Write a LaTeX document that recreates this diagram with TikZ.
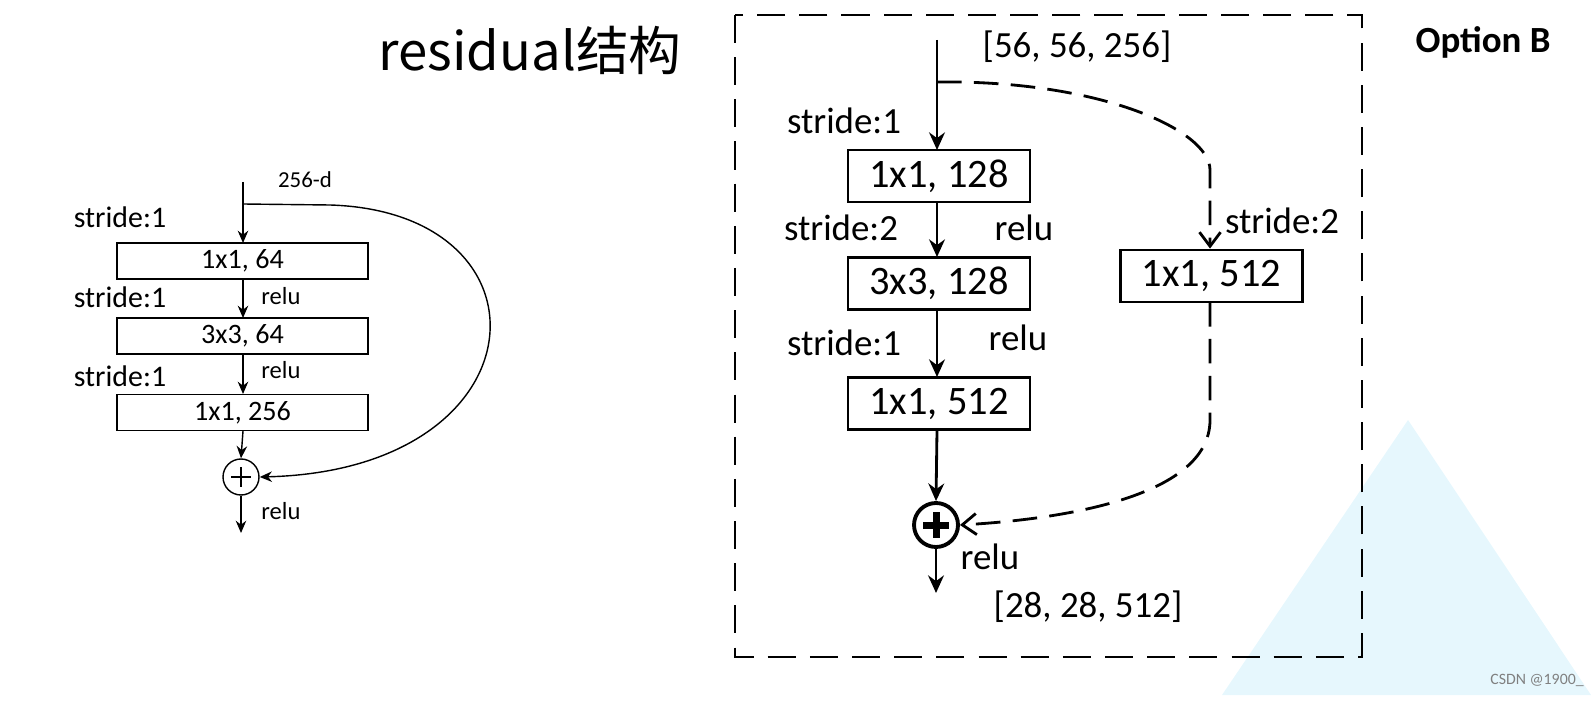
\documentclass[tikz,border=0pt]{standalone}
\usepackage{fontspec}
\setmainfont{Carlito}
\newfontfamily\cjk{Noto Sans CJK SC}
\usetikzlibrary{arrows.meta}
\begin{document}
\begin{tikzpicture}[x=0.02cm,y=-0.02cm,
  lbox/.style={draw,thick,minimum width=5.02cm,minimum height=0.72cm,inner sep=0,font=\fontsize{16}{16}\selectfont},
  rbox/.style={draw,line width=1.6pt,minimum width=3.64cm,minimum height=1.04cm,inner sep=0,font=\fontsize{23}{23}\selectfont},
  ltxt/.style={font=\fontsize{17}{17}\selectfont},
  rtxt/.style={font=\fontsize{21}{21}\selectfont},
  larr/.style={thick,-{Stealth[length=7pt,width=6pt]}},
  rarr/.style={line width=1.6pt,-{Stealth[length=10pt,width=9pt]}},
  dsh/.style={line width=1.6pt,dash pattern=on 14pt off 7pt}]
\useasboundingbox (0,0) rectangle (1591,705);
\fill[cyan!10] (1408,420) -- (1222,695) -- (1591,695) -- cycle;
\node[font=\fontsize{9}{9}\selectfont,text=gray] (wm) at (1537,680) {CSDN @1900\_};
% title
\node[font=\cjk\fontsize{30}{30}\selectfont] (title) at (530,50) {residual结构};
% left
\coordinate (ltop) at (243,182);
\node[lbox] (l1) at (242.5,261) {1x1, 64};
\node[lbox] (l2) at (242.5,336) {3x3, 64};
\node[lbox] (l3) at (242.5,412.5) {1x1, 256};
\node[draw,thick,circle,minimum size=0.72cm,inner sep=0] (lp) at (241,477) {};
\draw[thick] (lp.center) ++(-10,0) -- ++(20,0);
\draw[thick] (lp.center) ++(0,-10) -- ++(0,20);
\coordinate (lend) at (241,533);
\draw[larr] (ltop) -- (243,243);
\draw[larr] (243,279) -- (243,318);
\draw[larr] (243,354) -- (243,394);
\draw[larr] (243,431) -- (lp.north);
\draw[larr] (lp.south) -- (lend);
\draw[larr] (243,204) -- (330,205) .. controls (560,212) and (545,470) .. (lp.east);
\node[font=\fontsize{13}{13}\selectfont] (d256) at (305,180) {256-d};
\node[ltxt] (s1) at (120,217) {stride:1};
\node[ltxt] (s2) at (120,297) {stride:1};
\node[ltxt] (s3) at (120,376) {stride:1};
\node[font=\fontsize{14}{14}\selectfont] (r1) at (281,296) {relu};
\node[font=\fontsize{14}{14}\selectfont] (r2) at (281,370) {relu};
\node[font=\fontsize{14}{14}\selectfont] (r3) at (281,511) {relu};
% right
\draw[line width=1.6pt,dash pattern=on 16pt off 8pt] (735,15) rectangle (1362,657);
\node[font=\bfseries\fontsize{21}{21}\selectfont] (opt) at (1483,42) {Option B};
\coordinate (rtop) at (937,40);
\node[rbox] (b1) at (939,176) {1x1, 128};
\node[rbox] (b2) at (939,283.5) {3x3, 128};
\node[rbox] (b3) at (939,403.5) {1x1, 512};
\node[rbox] (b4) at (1211.5,276) {1x1, 512};
\node[draw,line width=2.2pt,circle,minimum size=0.88cm,inner sep=0] (rp) at (936,525) {};
\fill (rp.center) ++(-13,-3.5) rectangle ++(26,7);
\fill (rp.center) ++(-3.5,-13) rectangle ++(7,26);
\coordinate (rend) at (936,593);
\draw[rarr] (rtop) -- (937,150);
\draw[rarr] (937,202) -- (937,257);
\draw[rarr] (937,310) -- (937,377);
\draw[rarr] (937,430) -- (rp.north);
\draw[rarr] (rp.south) -- (rend);
\draw[dsh,-{Straight Barb[length=8pt,width=12pt]}] (937,82) .. controls (1100,80) and (1210,130) .. (1210,170) -- (b4.north-|1210,0);
\draw[dsh,-{Straight Barb[length=8pt,width=12pt]}] (1210,302) -- (1210,420) .. controls (1210,500) and (1050,520) .. (rp.east);
\node[rtxt] (c1) at (1077,47) {[56, 56, 256]};
\node[rtxt] (c2) at (1088,607) {[28, 28, 512]};
\node[rtxt] (t1) at (844,121) {stride:1};
\node[rtxt] (t2) at (841,228) {stride:2};
\node[rtxt] (t3) at (844,343) {stride:1};
\node[rtxt] (t4) at (1282,221) {stride:2};
\node[rtxt] (u1) at (1024,228) {relu};
\node[rtxt] (u2) at (1018,338) {relu};
\node[rtxt] (u3) at (990,557) {relu};
\end{tikzpicture}
\end{document}
